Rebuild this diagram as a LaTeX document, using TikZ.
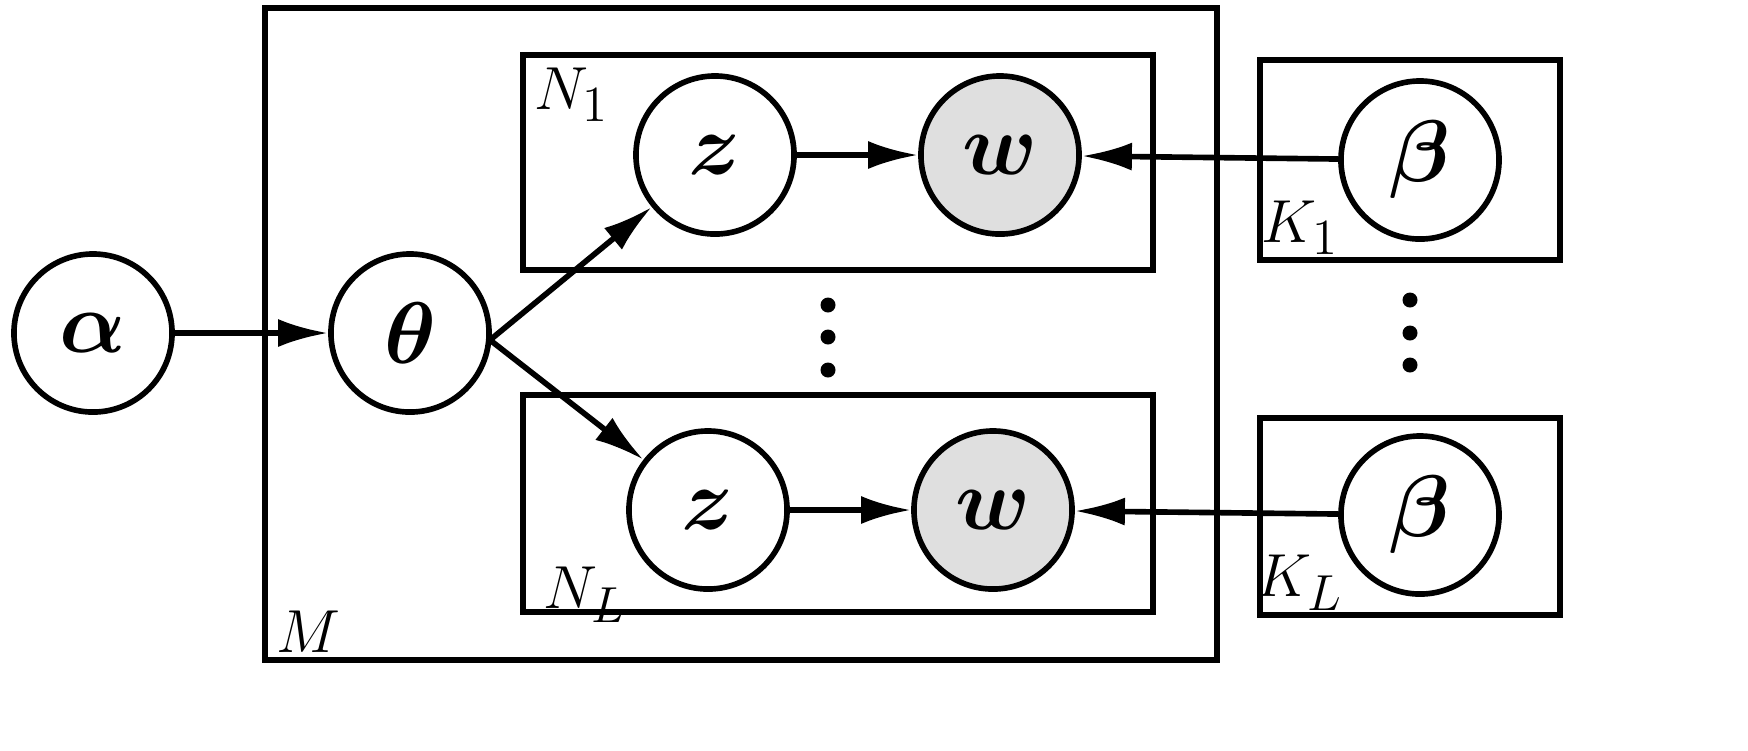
\documentclass[tikz,border=0pt]{standalone}
\usepackage{bm}
\usetikzlibrary{arrows.meta}
\begin{document}
\begin{tikzpicture}[x=0.01cm,y=-0.01cm,
 var/.style={circle,draw,line width=1.6pt,minimum size=1.58cm,inner sep=0pt,font=\fontsize{32}{32}\selectfont},
 obs/.style={var,fill=gray!25},
 plate/.style={draw,line width=1.6pt},
 lab/.style={font=\fontsize{19}{19}\selectfont},
 arr/.style={line width=1.6pt,-{Latex[length=0.5cm,width=0.28cm]}},
 dot/.style={circle,fill,inner sep=0pt,minimum size=0.15cm}]
\useasboundingbox (0,0) rectangle (1748,750);
\draw[plate] (265,8) rectangle (1217,660);
\draw[plate] (523,55) rectangle (1153,270);
\draw[plate] (523,395) rectangle (1153,612);
\draw[plate] (1260,60) rectangle (1560,260);
\draw[plate] (1260,418) rectangle (1560,615);
\node[var] (a) at (93,333) {$\bm{\alpha}$};
\node[var] (t) at (410,333) {$\bm{\theta}$};
\node[var] (z1) at (715,155) {$\bm{z}$};
\node[obs] (w1) at (1000,155) {$\bm{w}$};
\node[var] (z2) at (708,510) {$\bm{z}$};
\node[obs] (w2) at (993,510) {$\bm{w}$};
\node[var] (b1) at (1420,160) {$\bm{\beta}$};
\node[var] (b2) at (1420,515) {$\bm{\beta}$};
\coordinate (tp) at (490,340);
\draw[arr] (a) -- (t);
\draw[arr] (tp) -- (z1);
\draw[arr] (tp) -- (z2);
\draw[arr] (z1) -- (w1);
\draw[arr] (z2) -- (w2);
\draw[arr] (b1) -- (w1);
\draw[arr] (b2) -- (w2);
\node[lab] (n1) at (572,95) {$N_1$};
\node[lab] (nl) at (585,595) {$N_L$};
\node[lab] (m) at (308,632) {$M$};
\node[lab] (k1) at (1300,228) {$K_1$};
\node[lab] (kl) at (1300,583) {$K_L$};
\node[dot] (d1) at (828,305) {};\node[dot] (d2) at (828,337) {};\node[dot] (d3) at (828,370) {};
\node[dot] (e1) at (1410,300) {};\node[dot] (e2) at (1410,333) {};\node[dot] (e3) at (1410,365) {};
\end{tikzpicture}
\end{document}
